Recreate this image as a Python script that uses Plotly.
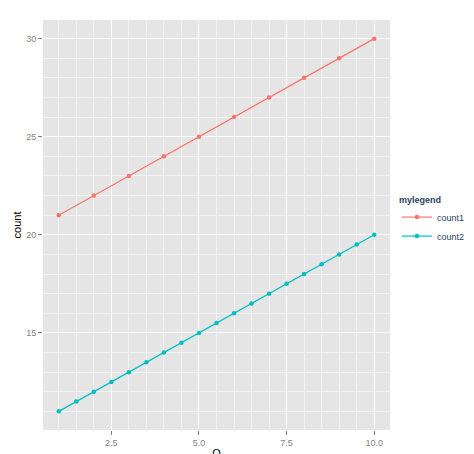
import plotly.graph_objects as go

q1 = [1, 2, 3, 4, 5, 6, 7, 8, 9, 10]
count1 = [21, 22, 23, 24, 25, 26, 27, 28, 29, 30]
q2 = [1, 1.5, 2, 2.5, 3, 3.5, 4, 4.5, 5, 5.5, 6, 6.5, 7, 7.5, 8, 8.5, 9, 9.5, 10]
count2 = [11, 11.5, 12, 12.5, 13, 13.5, 14, 14.5, 15, 15.5, 16, 16.5, 17, 17.5, 18, 18.5, 19, 19.5, 20]

fig = go.Figure()
fig.add_trace(go.Scatter(x=q1, y=count1, mode="lines+markers", name="count1",
                         line=dict(color="#F8766D", width=1.2), marker=dict(size=4.5)))
fig.add_trace(go.Scatter(x=q2, y=count2, mode="lines+markers", name="count2",
                         line=dict(color="#00BFC4", width=1.2), marker=dict(size=4.5)))

axis = dict(showgrid=True, gridcolor="white", gridwidth=1.2, zeroline=False,
            ticks="outside", ticklen=4, tickcolor="#7F7F7F", automargin=False,
            tickfont=dict(color="#7F7F7F", size=9),
            minor=dict(showgrid=True, gridcolor="#F2F2F2", gridwidth=0.6))
fig.update_xaxes(axis, range=[0.55, 10.45], tickvals=[2.5, 5, 7.5, 10],
                 ticktext=["2.5", "5.0", "7.5", "10.0"],
                 title=dict(text="Q", font=dict(size=11, color="black"), standoff=2))
fig.update_yaxes(axis, range=[10.05, 30.95], tickvals=[15, 20, 25, 30],
                 title=dict(text="count", font=dict(size=11, color="black"), standoff=2))

fig.update_layout(
    width=474, height=454,
    margin=dict(l=35, r=81, t=12, b=32),
    plot_bgcolor="#E5E5E5", paper_bgcolor="white",
    font=dict(family="Liberation Sans, Arial"),
    legend=dict(title=dict(text="<b>mylegend</b>", font=dict(size=9)),
                font=dict(size=9), x=1.02, y=0.51, yanchor="middle",
                tracegroupgap=0),
)
fig.write_html("out.html")
